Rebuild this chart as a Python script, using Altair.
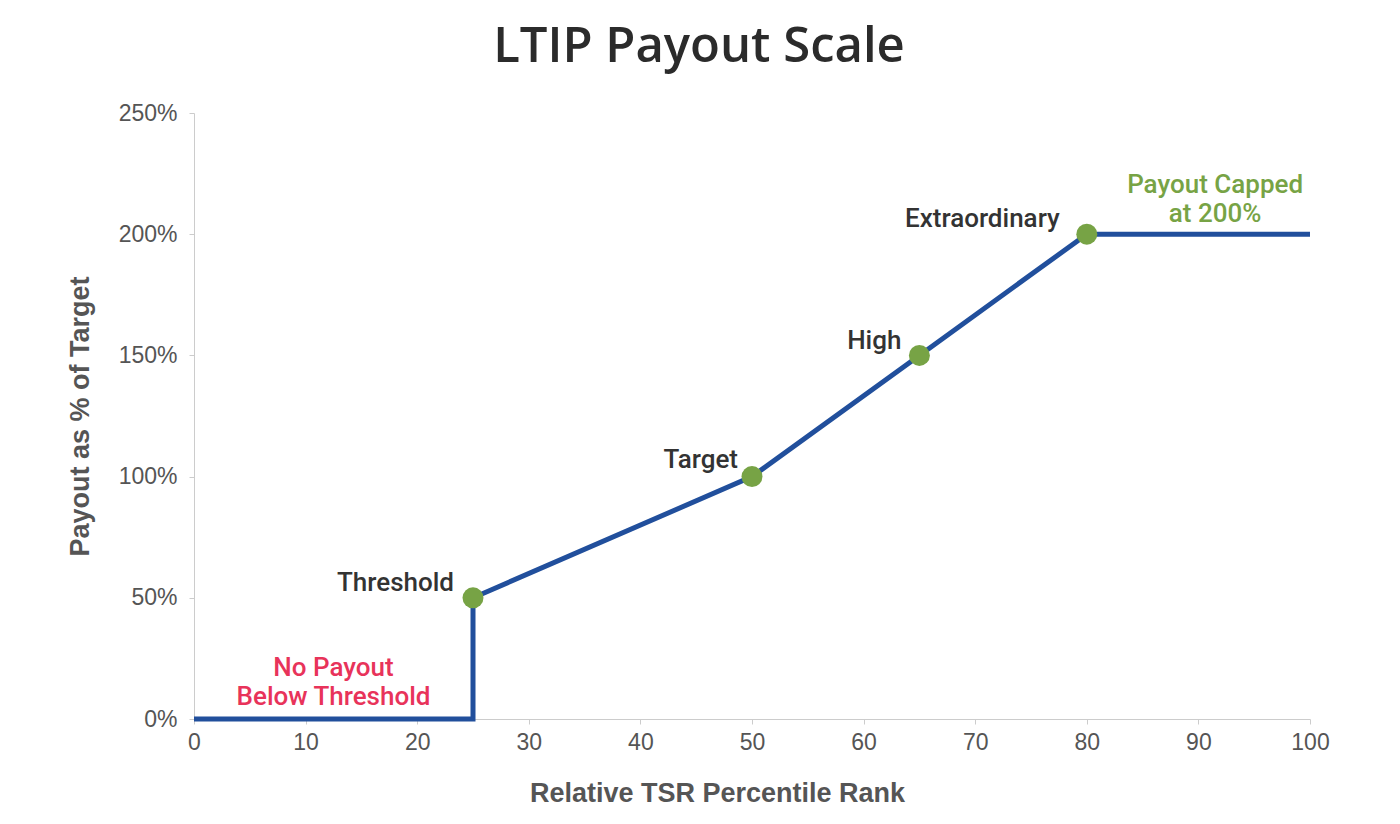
import altair as alt
import pandas as pd

# Payout curve
curve_x = [0, 25, 25, 50, 65, 80, 100]
curve_y = [0, 0, 50, 100, 150, 200, 200]

# Milestones
milestone_names = ["Threshold", "Target", "High", "Extraordinary"]
milestone_x = [25, 50, 65, 80]
milestone_y = [50, 100, 150, 200]

# Annotations
note_text = [["No Payout", "Below Threshold"], ["Payout Capped", "at 200%"]]
note_x = [12.5, 91.5]
note_y = [21, 220.5]
note_color = ["#e8335a", "#77a345"]

x_ticks = list(range(0, 101, 10))
y_ticks = [0, 50, 100, 150, 200, 250]

curve = pd.DataFrame({"x": curve_x, "y": curve_y, "order": list(range(len(curve_x)))})
pts = pd.DataFrame({"x": milestone_x, "y": milestone_y, "name": milestone_names})

LABEL_FONT = "Liberation Sans"
GRAY = "#555555"

xs = alt.Scale(domain=[0, 100], nice=False)
ys = alt.Scale(domain=[0, 250], nice=False)

x_axis = alt.Axis(
    values=x_ticks, title="Relative TSR Percentile Rank", grid=False, labelFlush=False,
    domainColor="#cccccc", tickColor="#cccccc", tickSize=5, labelPadding=7,
    labelFont=LABEL_FONT, labelFontSize=23, labelColor=GRAY,
    titleFont=LABEL_FONT, titleFontSize=27, titleFontWeight="bold", titleColor=GRAY,
    titleX=523, titleY=74, titleBaseline="middle", titleAlign="center", titleAnchor="start",
)
y_axis = alt.Axis(
    values=y_ticks, title="Payout as % of Target", grid=False,
    labelExpr="datum.value + '%'",
    domainColor="#cccccc", tickColor="#cccccc", tickSize=5, labelPadding=12,
    labelFont=LABEL_FONT, labelFontSize=23, labelColor=GRAY,
    titleFont=LABEL_FONT, titleFontSize=27, titleFontWeight="bold", titleColor=GRAY,
    titleX=-114, titleY=303, titleAngle=-90, titleBaseline="middle", titleAlign="center",
    titleAnchor="start",
)

line = alt.Chart(curve).mark_line(color="#214f9c", strokeWidth=5, strokeJoin="miter").encode(
    x=alt.X("x:Q", scale=xs, axis=x_axis),
    y=alt.Y("y:Q", scale=ys, axis=y_axis),
    order="order:O",
)

points = alt.Chart(pts).mark_circle(color="#77a345", opacity=1, size=440).encode(
    x=alt.X("x:Q", scale=xs), y=alt.Y("y:Q", scale=ys)
)

label_offsets = {"Threshold": (-19, -15), "Target": (-14, -17), "High": (-18, -14), "Extraordinary": (-27, -15)}
label_layers = []
for name in milestone_names:
    dx, dy = label_offsets[name]
    label_layers.append(
        alt.Chart(pts[pts["name"] == name]).mark_text(
            align="right", baseline="middle", dx=dx, dy=dy,
            font="Roboto", fontWeight=500, fontSize=26, color="#333333",
        ).encode(x=alt.X("x:Q", scale=xs), y=alt.Y("y:Q", scale=ys), text="name:N")
    )

note_layers = []
for txt, nx, ny, col in zip(note_text, note_x, note_y, note_color):
    df = pd.DataFrame({"x": [nx], "y": [ny], "t": [txt]})
    note_layers.append(
        alt.Chart(df).mark_text(
            align="center", baseline="middle", lineHeight=29,
            font="Roboto", fontWeight=500, fontSize=26, color=col,
        ).encode(x=alt.X("x:Q", scale=xs), y=alt.Y("y:Q", scale=ys), text="t")
    )

chart = alt.layer(line, points, *label_layers, *note_layers).properties(
    width=1116, height=606,
    padding={"left": 186, "top": 105, "right": 82, "bottom": 97},
    autosize=alt.AutoSizeParams(type="none"),
    title=alt.TitleParams(
        "LTIP Payout Scale", font="Open Sans", fontSize=49, fontWeight=600, color="#2b2b2b",
        anchor="middle", dx=-53, offset=30,
    ),
).configure_view(stroke=None)

chart.save("out.html", embed_options={"renderer": "svg", "actions": False})
